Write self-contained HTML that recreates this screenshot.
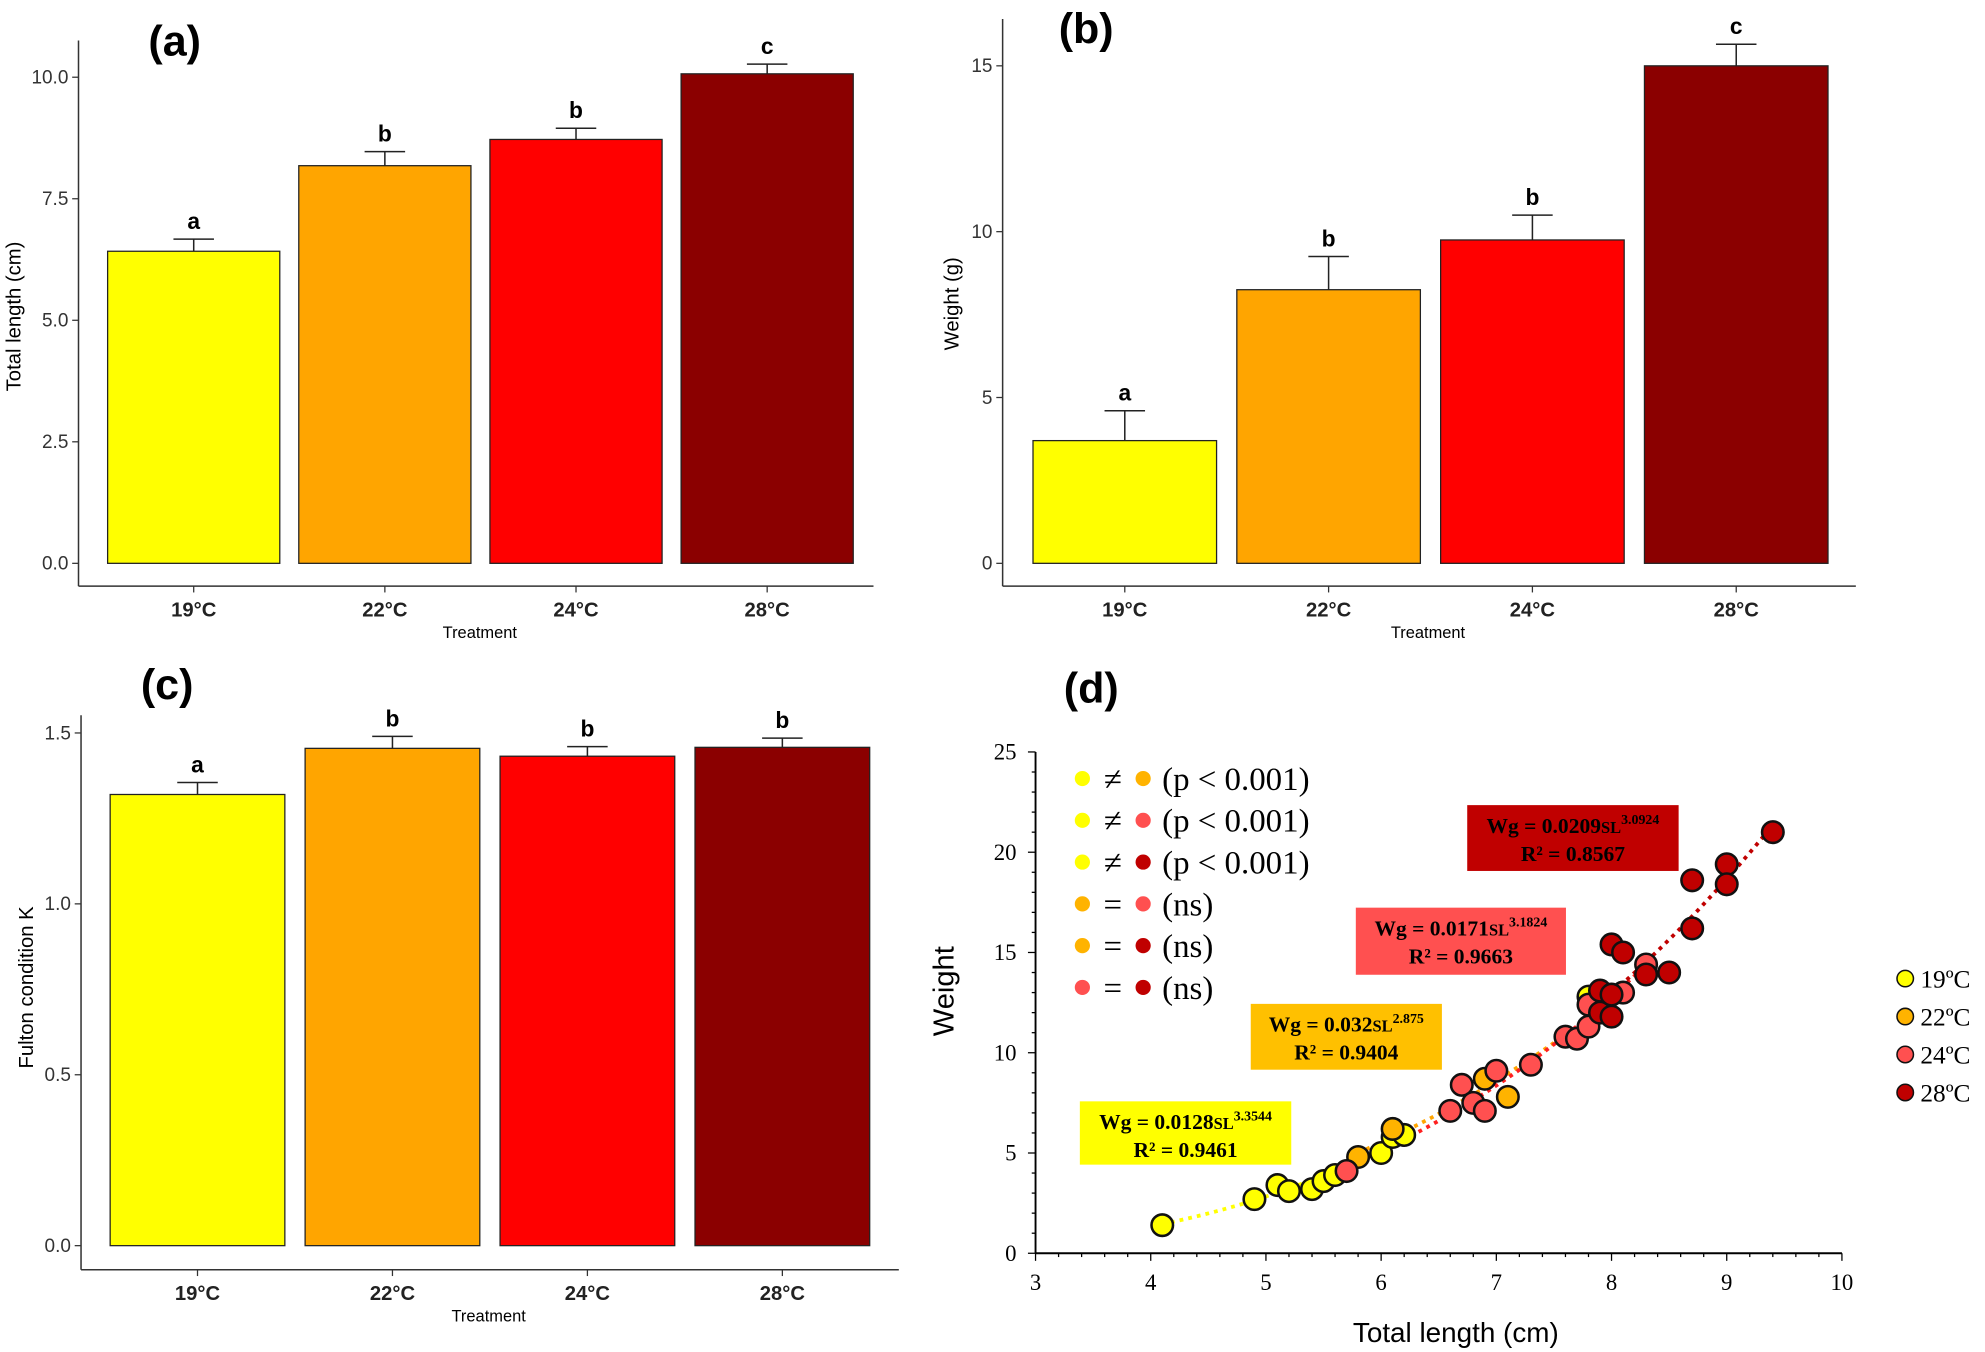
<!DOCTYPE html>
<html><head><meta charset="utf-8"><style>
html,body{margin:0;padding:0;background:#fff;}
svg{display:block;}
.sans{font-family:"Liberation Sans",sans-serif;}
.serif{font-family:"Liberation Serif",serif;}
</style></head><body>
<svg id="fig" width="1985" height="1352" viewBox="0 0 1568 1068" xmlns="http://www.w3.org/2000/svg"></svg>
<script>
const categories=["19°C","22°C","24°C","28°C"];
const colors=["#ffff00","#ffa500","#ff0000","#8b0000"];
const lengthMeans=[6.42,8.18,8.72,10.07];
const lengthErr=[0.25,0.29,0.23,0.2];
const lengthLetters=["a","b","b","c"];
const weightMeans=[3.7,8.25,9.75,15.0];
const weightErr=[0.9,1.0,0.75,0.65];
const weightLetters=["a","b","b","c"];
const kMeans=[1.32,1.455,1.432,1.458];
const kErr=[0.035,0.035,0.028,0.027];
const kLetters=["a","b","b","b"];
const lengthTicks=[0,2.5,5,7.5,10];
const weightTicks=[0,5,10,15];
const kTicks=[0,0.5,1.0,1.5];
const sx19=[4.1,4.9,5.1,5.2,5.4,5.5,5.6,6.0,6.1,6.2,7.8];
const sy19=[1.4,2.7,3.4,3.1,3.2,3.6,3.9,5.0,5.8,5.9,12.8];
const sx22=[5.8,6.1,6.9,7.1];
const sy22=[4.8,6.2,8.7,7.8];
const sx24=[5.7,6.6,6.7,6.8,6.9,7.0,7.3,7.6,7.7,7.8,7.8,8.1,8.3];
const sy24=[4.1,7.1,8.4,7.5,7.1,9.1,9.4,10.8,10.7,11.3,12.4,13.0,14.4];
const sx28=[7.9,7.9,8.0,8.0,8.0,8.1,8.3,8.5,8.7,8.7,9.0,9.0,9.4];
const sy28=[13.1,12.0,11.8,12.9,15.4,15.0,13.9,14.0,18.6,16.2,19.4,18.4,21.0];
const xTicksD=[3,4,5,6,7,8,9,10];
const yTicksD=[0,5,10,15,20,25];

const NS="http://www.w3.org/2000/svg";
const svg=document.getElementById('fig');
function mk(tag,attrs,parent,text){const e=document.createElementNS(NS,tag);for(const k in attrs)e.setAttribute(k,attrs[k]);if(text!==undefined)e.textContent=text;(parent||svg).appendChild(e);return e;}

function barPanel(p){
  const g=mk('g',{});
  
  
  const y=v=>p.y0-(v-p.vmin)*p.scale;
  const ax=mk('line',{x1:p.ax,y1:p.ytop,x2:p.ax,y2:p.axisY,stroke:'#333','stroke-width':1.2},g);
  
  const bx=mk('line',{x1:p.ax,y1:p.axisY,x2:p.xend,y2:p.axisY,stroke:'#333','stroke-width':1.2},g);
  
  p.ticks.forEach(t=>{
    mk('line',{x1:p.ax-5,x2:p.ax,y1:y(t),y2:y(t),stroke:'#333'},g);
    const tl=mk('text',{x:p.ax-8,y:y(t)+5,'text-anchor':'end','font-size':15,fill:'#333',class:'sans'},g,p.fmt(t));
    
  });
  p.means.forEach((m,i)=>{
    const x0=p.bx0+i*p.step, cx=x0+p.bw/2;
    const b=mk('rect',{x:x0,y:y(m),width:p.bw,height:y(0)-y(m),fill:colors[i],stroke:'#222','stroke-width':1},g);
    
    const top=y(m+p.err[i]);
    mk('line',{x1:cx,x2:cx,y1:y(m),y2:top,stroke:'#222','stroke-width':1.2},g);
    mk('line',{x1:cx-16,x2:cx+16,y1:top,y2:top,stroke:'#222','stroke-width':1.2},g);
    const l=mk('text',{x:cx,y:top-8,'text-anchor':'middle','font-size':18,'font-weight':'bold',class:'sans'},g,p.letters[i]);
    
    mk('line',{x1:cx,x2:cx,y1:p.axisY,y2:p.axisY+5,stroke:'#333'},g);
    const c=mk('text',{x:cx,y:p.axisY+24,'text-anchor':'middle','font-size':16,'font-weight':'bold',fill:'#222',class:'sans'},g,categories[i]);
    
  });
  const xt=mk('text',{x:p.xtx,y:p.axisY+41,'text-anchor':'middle','font-size':13,class:'sans'},g,'Treatment');
  
  const yt=mk('text',{x:0,y:0,transform:`translate(${p.ylx},${p.yly}) rotate(-90)`,'text-anchor':'middle','font-size':16,class:'sans'},g,p.ylabel);
  
  const pl=mk('text',{x:p.plx,y:p.ply,'text-anchor':'middle','font-size':34,'font-weight':'bold',class:'sans'},g,p.label);
  
}
barPanel({name:'panel-a-length',ax:62,ytop:32,axisY:463,xend:690,y0:445,vmin:0,scale:38.4,ticks:lengthTicks,fmt:t=>t.toFixed(1),means:lengthMeans,err:lengthErr,letters:lengthLetters,bx0:85,step:151,bw:136,xtx:379,ylx:16,yly:250,ylabel:'Total length (cm)',plx:138,ply:44,label:'(a)'});
barPanel({name:'panel-b-weight',ax:792,ytop:15,axisY:463,xend:1466,y0:445,vmin:0,scale:26.2,ticks:weightTicks,fmt:t=>String(t),means:weightMeans,err:weightErr,letters:weightLetters,bx0:816,step:161,bw:145,xtx:1128,ylx:757,yly:240,ylabel:'Weight (g)',plx:858,ply:34,label:'(b)'});
barPanel({name:'panel-c-fulton-k',ax:64,ytop:565,axisY:1003,xend:710,y0:984,vmin:0,scale:270,ticks:kTicks,fmt:t=>t.toFixed(1),means:kMeans,err:kErr,letters:kLetters,bx0:87,step:154,bw:138,xtx:386,ylx:26,yly:780,ylabel:'Fulton condition K',plx:132,ply:552,label:'(c)'});

// Panel d
const gd=mk('g',{});


const X=v=>818+(v-3)*91;
const Y=v=>990-v*15.84;
mk('line',{x1:818,y1:594,x2:818,y2:990,stroke:'#000','stroke-width':1.5},gd);
mk('line',{x1:818,y1:990,x2:1455,y2:990,stroke:'#000','stroke-width':1.5},gd);
yTicksD.forEach(t=>{
  mk('line',{x1:812,x2:818,y1:Y(t),y2:Y(t),stroke:'#000'},gd);
  if(t<25)for(let k=1;k<5;k++)mk('line',{x1:815,x2:818,y1:Y(t+k),y2:Y(t+k),stroke:'#000'},gd);
  const tl=mk('text',{x:803,y:Y(t)+6,'text-anchor':'end','font-size':18,class:'serif'},gd,String(t));
  
});
xTicksD.forEach(t=>{
  mk('line',{x1:X(t),x2:X(t),y1:990,y2:996,stroke:'#000'},gd);
  if(t<10)for(let k=1;k<5;k++)mk('line',{x1:X(t+k/5),x2:X(t+k/5),y1:990,y2:993,stroke:'#000'},gd);
  const tl=mk('text',{x:X(t),y:1019,'text-anchor':'middle','font-size':18,class:'serif'},gd,String(t));
  
});
const dxt=mk('text',{x:1150,y:1060,'text-anchor':'middle','font-size':22,class:'sans'},gd,'Total length (cm)');

const dyt=mk('text',{x:0,y:0,transform:'translate(753,783) rotate(-90)','text-anchor':'middle','font-size':23,class:'sans'},gd,'Weight');

const dpl=mk('text',{x:862,y:555,'text-anchor':'middle','font-size':34,'font-weight':'bold',class:'sans'},gd,'(d)');


// fit curves
function fit(a,b,x0,x1,col,name){
  let d='';for(let i=0;i<=40;i++){const x=x0+(x1-x0)*i/40;d+=(i?'L':'M')+X(x)+','+Y(a*Math.pow(x,b));}
  const p=mk('path',{d,fill:'none',stroke:col,'stroke-width':3,'stroke-dasharray':'3,4'},gd);
  
}
fit(0.0128,3.3544,4.1,6.2,'#ffff00','fit-line-19c');
fit(0.032,2.875,5.8,7.5,'#ffa500','fit-line-22c');
fit(0.0171,3.1824,5.7,8.3,'#ff2020','fit-line-24c');
fit(0.0209,3.0924,7.9,9.4,'#c00000','fit-line-28c');

const ptCols=['#ffff00','#ffb300','#ff5050','#c00000'];
[[sx19,sy19],[sx22,sy22],[sx24,sy24],[sx28,sy28]].forEach((s,gi)=>{
  s[0].forEach((x,i)=>{
    const c=mk('circle',{cx:X(x),cy:Y(s[1][i]),r:8.5,fill:ptCols[gi],stroke:'#111','stroke-width':2},gd);
    
    
  });
});

// equation boxes
function box(x,y,w,h,fill,a,b,r2,name){
  const g=mk('g',{},gd);
  
  mk('rect',{x,y,width:w,height:h,fill},g);
  const t=mk('text',{x:x+w/2,y:y+22,'text-anchor':'middle','font-size':17,'font-weight':'bold',class:'serif'},g);
  mk('tspan',{},t,'Wg = '+a);
  mk('tspan',{'font-size':13},t,'SL');
  mk('tspan',{'font-size':11,dy:-7},t,b);
  mk('text',{x:x+w/2,y:y+44,'text-anchor':'middle','font-size':17,'font-weight':'bold',class:'serif'},g,'R² = '+r2);
}
box(853,870,167,50,'#ffff00','0.0128','3.3544','0.9461','equation-19c');
box(988,793,151,52,'#ffc000','0.032','2.875','0.9404','equation-22c');
box(1071,717,166,53,'#ff5050','0.0171','3.1824','0.9663','equation-24c');
box(1159,636,167,52,'#c00000','0.0209','3.0924','0.8567','equation-28c');

// comparison legend
const cmp=[[0,'≠',1,'(p < 0.001)'],[0,'≠',2,'(p < 0.001)'],[0,'≠',3,'(p < 0.001)'],[1,'=',2,'(ns)'],[1,'=',3,'(ns)'],[2,'=',3,'(ns)']];
cmp.forEach((c,i)=>{
  const y=615+i*33;
  const g=mk('g',{},gd);
  
  mk('circle',{cx:855,cy:y,r:6,fill:ptCols[c[0]]},g);
  mk('text',{x:879,y:y+9,'text-anchor':'middle','font-size':26,class:'serif'},g,c[1]);
  mk('circle',{cx:903,cy:y,r:6,fill:ptCols[c[2]]},g);
  mk('text',{x:918,y:y+9,'font-size':26,class:'serif'},g,c[3]);
});
// series legend
["19ºC","22ºC","24ºC","28ºC"].forEach((n,i)=>{
  const y=773+i*30;
  const g=mk('g',{},gd);
  
  mk('circle',{cx:1505,cy:y,r:6.5,fill:ptCols[i],stroke:'#111','stroke-width':1.2},g);
  mk('text',{x:1517,y:y+7,'font-size':20,class:'serif'},g,n);
});
</script>
</body></html>
